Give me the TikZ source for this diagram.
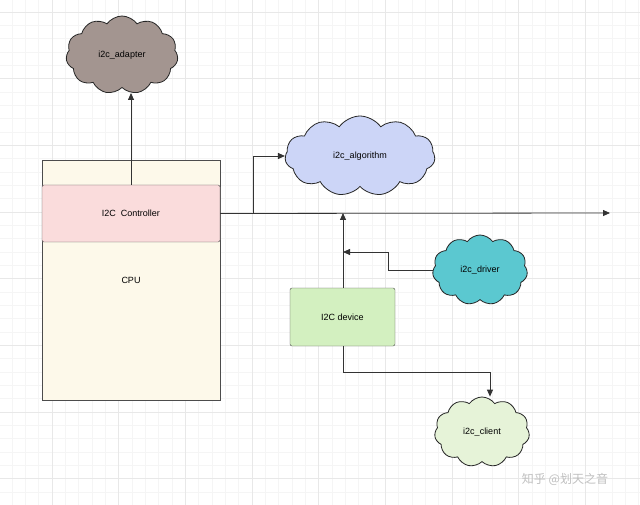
\documentclass[tikz,border=0pt]{standalone}
\usepackage{fontspec}
\setmainfont{Liberation Sans}
\newfontfamily\cjk{Noto Sans CJK SC}
\usetikzlibrary{shapes.symbols,arrows.meta}
\definecolor{adapterc}{HTML}{A39590}
\definecolor{algoc}{HTML}{CCD5F7}
\definecolor{driverc}{HTML}{5BC8D0}
\definecolor{clientc}{HTML}{E6F3D8}
\definecolor{cpuc}{HTML}{FDF9EA}
\definecolor{ctrlc}{HTML}{FADCDC}
\definecolor{devc}{HTML}{D3F0C0}
\tikzset{
  cl/.style={cloud, cloud puffs=11, cloud puff arc=110, aspect=1.6, draw=black!85, thick, font=\small, inner sep=0pt},
  box/.style={draw=black!70, rounded corners=2pt, font=\small},
  arr/.style={-{Triangle[length=7pt,width=6pt]}, thick, black!80}
}
\begin{document}
\begin{tikzpicture}[x=1pt,y=-1pt]
\useasboundingbox (0,0) rectangle (640,505);
\fill[white] (0,0) rectangle (640,505);
% grid
\foreach \i in {-3,...,44} {
  \draw[black!4] ({52+13.33*(\i)},0) -- ({52+13.33*(\i)},505);
  \draw[black!4] (0,{12+13.33*(\i)}) -- (640,{12+13.33*(\i)});
}
\foreach \i in {-1,...,9} {
  \draw[black!9] ({52+66.67*(\i)},0) -- ({52+66.67*(\i)},505);
  \draw[black!9] (0,{12+66.67*(\i)}) -- (640,{12+66.67*(\i)});
}
% CPU and controller
\node[draw=black!70, fill=cpuc, minimum width=178pt, minimum height=240pt, anchor=north west] (cpu) at (42,160) {};
\node[font=\small] (cpulabel) at (131,280) {CPU};
\node[box, fill=ctrlc, minimum width=178pt, minimum height=57pt] (ctrl) at (131,213.5) {I2C\ \ Controller};
\node[box, fill=devc, minimum width=105pt, minimum height=58pt] (dev) at (342.5,317) {I2C device};
% clouds
\node[cl, fill=adapterc, minimum width=112pt, minimum height=78pt] (adapter) at (122,55) {i2c\_adapter};
\node[cl, fill=algoc, minimum width=150pt, minimum height=80pt] (algo) at (360,156) {i2c\_algorithm};
\node[cl, fill=driverc, minimum width=95pt, minimum height=70pt] (driver) at (480,270) {i2c\_driver};
\node[cl, fill=clientc, minimum width=95pt, minimum height=70pt] (client) at (482,432) {i2c\_client};
% connectors
\coordinate (busend) at (610,213);
\coordinate (tap) at (253,213);
\coordinate (join) at (343,213);
\coordinate (djoin) at (343,252);
\coordinate (dbend) at (388,252);
\coordinate (cbend) at (490,372);
\coordinate (up) at (131,185);
\coordinate (uptop) at (131,93);
\draw[arr] (ctrl.east) -- (busend);
\draw[arr] (tap) |- (algo.west);
\draw[arr] (up) -- (uptop);
\draw[arr] (dev.north -| join) -- (join);
\draw[arr] (driver.west) -| (dbend) -- (djoin);
\draw[arr] (dev.south -| join) |- (cbend) -- (cbend |- client.north);
% watermark
\node[font=\cjk\large, text=black!25] (wm) at (565,479) {知乎 @划天之音};
\end{tikzpicture}
\end{document}
